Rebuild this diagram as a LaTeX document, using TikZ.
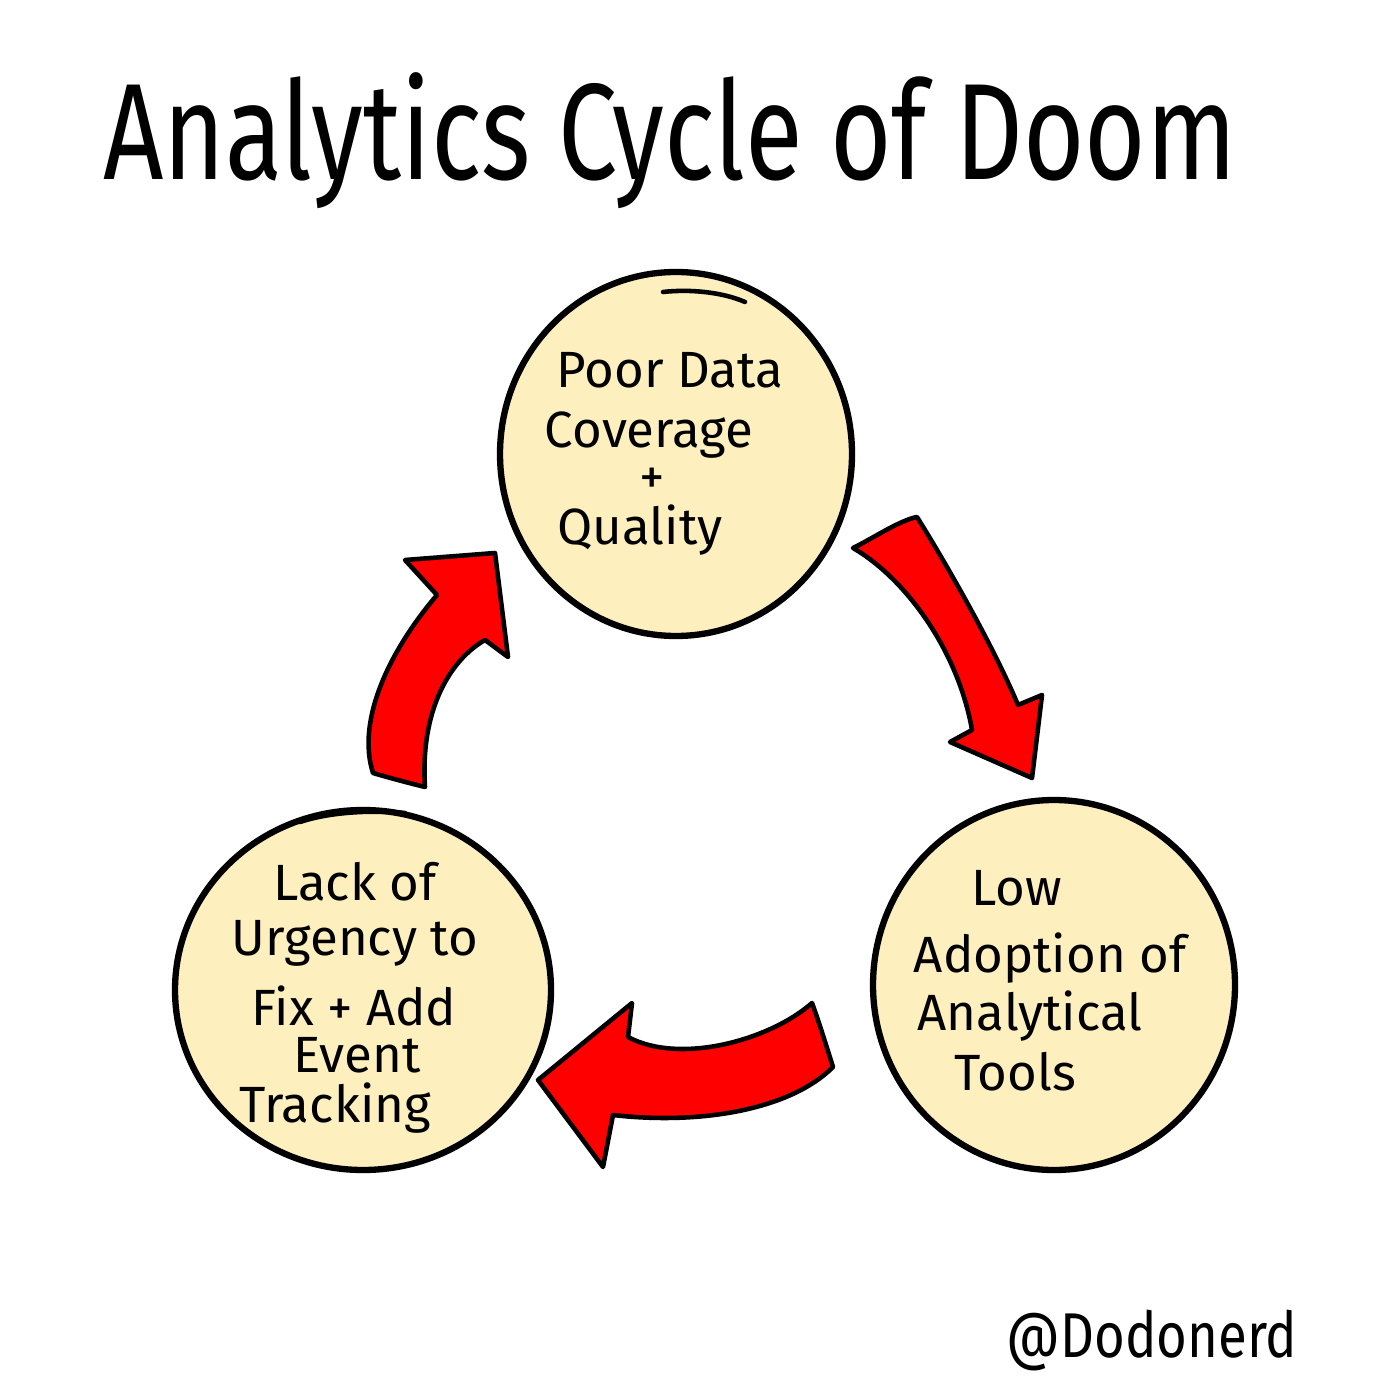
\documentclass[tikz,border=0pt]{standalone}
\usepackage{fontspec}
\setmainfont{Fira Sans}
\usetikzlibrary{shapes.geometric}
\definecolor{cream}{HTML}{FDEFBE}
\definecolor{arrowred}{HTML}{FF0000}
\begin{document}
\begin{tikzpicture}[x=0.1mm,y=-0.1mm,
  bubble/.style={draw=black,fill=cream,line width=1.8pt,ellipse,inner sep=0pt},
  redarrow/.style={draw=black,fill=arrowred,line width=1.3pt,line join=round},
  lbl/.style={font=\fontsize{14.5}{17}\selectfont,anchor=base,inner sep=0pt},
  overstroke/.style={draw=black,line width=1.3pt,line cap=round}]
\useasboundingbox[fill=white] (0,0) rectangle (1400,1400);

% title
\node[anchor=base,inner sep=0pt,font=\fontsize{30}{36}\selectfont] (title) at (670,180) {\scalebox{1}[1.3]{Analytics Cycle of Doom}};

% circles
\node[bubble,minimum width=35.2mm,minimum height=36.4mm] (top) at (676,454) {};
\node[bubble,minimum width=36.2mm,minimum height=37.0mm] (right) at (1054,985) {};
\node[bubble,minimum width=37.6mm,minimum height=36.0mm] (left) at (363,990) {};

% overlap strokes of the hand-drawn circles
\coordinate (ts1) at (663,292);
\coordinate (ts2) at (745,302);
\draw[overstroke] (ts1) .. controls (690,289) and (722,292) .. (ts2);
\coordinate (ls1) at (300,822);
\coordinate (ls2) at (405,813);
\draw[overstroke] (ls1) .. controls (330,812) and (370,810) .. (ls2);

% arrows
\draw[redarrow] (853,548) .. controls (905,578) and (958,650) .. (972,730)
  -- (950,742) -- (1032,778) -- (1042,695) -- (1018,705)
  .. controls (995,650) and (950,570) .. (917,517)
  .. controls (900,520) and (870,540) .. (853,548) -- cycle;
\draw[redarrow] (812,1003) .. controls (770,1040) and (680,1065) .. (628,1037)
  -- (632,1003) -- (538,1080) -- (603,1167) -- (613,1115)
  .. controls (700,1125) and (790,1110) .. (833,1067)
  .. controls (826,1045) and (820,1025) .. (812,1003) -- cycle;
\draw[redarrow] (373,773) .. controls (356,720) and (390,650) .. (437,595)
  -- (405,560) -- (495,553) -- (508,657) -- (485,640)
  .. controls (450,660) and (420,710) .. (425,787)
  .. controls (405,782) and (390,778) .. (373,773) -- cycle;

% texts, top circle
\node[lbl] (t1) at (670,388) {Poor Data};
\node[lbl] (t2) at (649,448) {Coverage};
\node[lbl,anchor=center] (t3) at (652,481) {+};
\node[lbl] (t4) at (640,545) {Quality};
% right circle
\node[lbl] (r1) at (1017,905) {Low};
\node[lbl] (r2) at (1050,972) {Adoption of};
\node[lbl] (r3) at (1030,1030) {Analytical};
\node[lbl] (r4) at (1015,1090) {Tools};
% left circle
\node[lbl] (l1) at (355,900) {Lack of};
\node[lbl] (l2) at (355,955) {Urgency to};
\node[lbl] (l3) at (354,1025) {Fix + Add};
\node[lbl] (l4) at (357,1072) {Event};
\node[lbl] (l5) at (335,1122) {Tracking};

% signature
\node[anchor=base,inner sep=0pt,font=\fontsize{15}{18}\selectfont] (sig) at (1152,1357) {\scalebox{1}[1.2]{@Dodonerd}};
\end{tikzpicture}
\end{document}
